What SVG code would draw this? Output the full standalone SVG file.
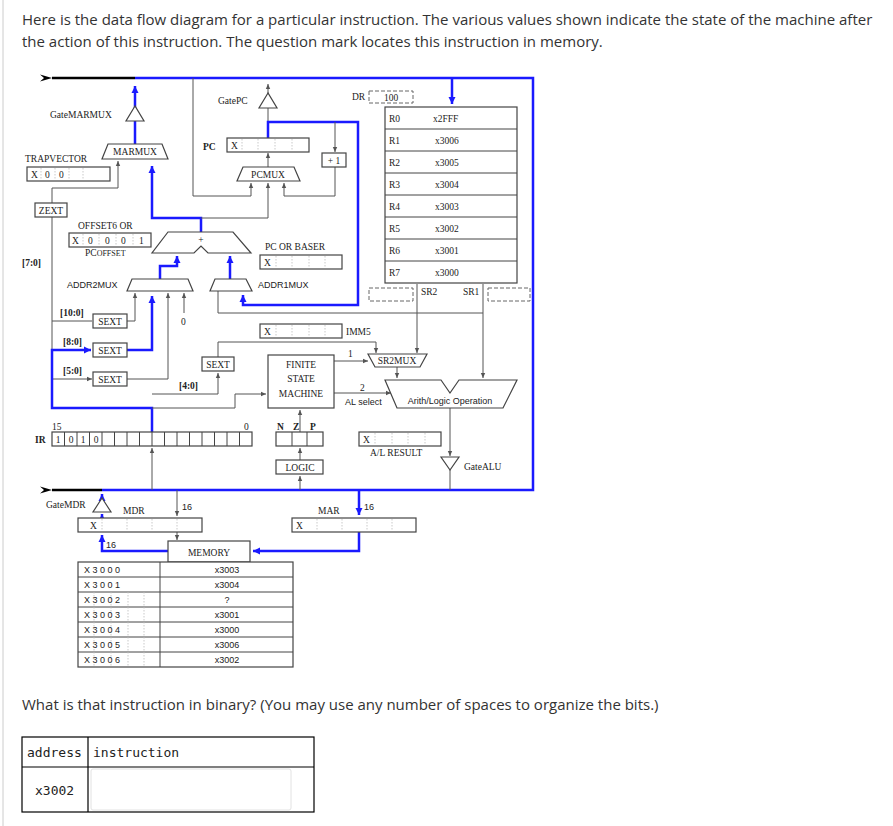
<svg xmlns="http://www.w3.org/2000/svg" width="893" height="826" viewBox="0 0 893 826">
<defs>
<marker id="ag" markerWidth="6" markerHeight="6" refX="5" refY="3" orient="auto" markerUnits="userSpaceOnUse"><path d="M0,0.8 L5,3 L0,5.2z" fill="#555"/></marker>
<marker id="ab" markerWidth="8" markerHeight="8" refX="7" refY="4" orient="auto" markerUnits="userSpaceOnUse"><path d="M0,0.5 L7,4 L0,7.5z" fill="#1a1aff"/></marker>
<marker id="ak" markerWidth="12" markerHeight="8" refX="0" refY="4" orient="auto" markerUnits="userSpaceOnUse"><path d="M0,4 L12,0.5 L8,4 L12,7.5z" fill="#000"/></marker>
</defs>
<style>
.t{font-family:"Liberation Serif",serif;font-size:9.5px;fill:#222}
.s{font-family:"Liberation Sans",sans-serif;font-size:9px;fill:#222}
.o{font-family:"Open Sans",sans-serif;font-size:15px;fill:#333}
.m{font-family:"DejaVu Sans Mono",monospace;font-size:13px;fill:#222}
.g{fill:none;stroke:#555;stroke-width:1}
.b{fill:none;stroke:#1a1aff;stroke-width:2.5}
.bx{fill:#fff;stroke:#444;stroke-width:1.2}
.d{stroke:#bbb;stroke-width:0.8;stroke-dasharray:1.5,1.5}
.ds{fill:none;stroke:#666;stroke-width:1;stroke-dasharray:4,2}
</style>
<rect width="893" height="826" fill="#fff"/>
<line x1="3" y1="0" x2="3" y2="826" stroke="#ccc"/>
<text class="o" x="22" y="25">Here is the data flow diagram for a particular instruction. The various values shown indicate the state of the machine after</text>
<text class="o" x="22" y="47">the action of this instruction. The question mark locates this instruction in memory.</text>

<g id="connectors">
<!-- buses -->
<line x1="135" y1="78" x2="52" y2="78" stroke="#000" stroke-width="2.5" marker-end="url(#ak)"/>
<path class="b" d="M135,78 H533 V490 H102"/>
<line x1="102" y1="490" x2="52" y2="490" stroke="#000" stroke-width="2.5" marker-end="url(#ak)"/>
<!-- marmux -->
<path class="b" d="M135,144 V86" marker-end="url(#ab)"/>
<path class="b" d="M201,232 V218 H152 V166" marker-end="url(#ab)"/>
<path class="g" d="M52,203 V188 H118 V161" marker-end="url(#ag)"/>
<!-- PC -->
<path class="g" d="M268,138 V84" marker-end="url(#ag)"/>
<path class="b" d="M268,138 V122 H358 V305 H243 V295" marker-end="url(#ab)"/>
<path class="g" d="M335,122 V152" marker-end="url(#ag)"/>
<path class="g" d="M335,167 V196 H284 V183" marker-end="url(#ag)"/>
<path class="g" d="M193,78 V196 H251 V183" marker-end="url(#ag)"/>
<path class="g" d="M201,218 H268 V183" marker-end="url(#ag)"/>
<path class="g" d="M268,167 V153" marker-end="url(#ag)"/>
<!-- adders -->
<path class="b" d="M160,279 V266 H177 V256" marker-end="url(#ab)"/>
<path class="b" d="M230,279 V256" marker-end="url(#ab)"/>
<path class="g" d="M218,291 V313 H483"/>
<path class="g" d="M127,321 H135 V293" marker-end="url(#ag)"/>
<path class="b" d="M127,350 H152 V296" marker-end="url(#ab)"/>
<path class="g" d="M127,379 H168 V293" marker-end="url(#ag)"/>
<path class="g" d="M184,313 V293" marker-end="url(#ag)"/>
<!-- IR fan -->
<path class="g" d="M52,217 V379 M52,321 H92 M52,379 H92" marker-end="url(#ag)"/>
<path class="b" d="M152,432 V408 H52 V350 H91" marker-end="url(#ab)"/>
<path class="g" d="M152,394 H218 V373" marker-end="url(#ag)"/>
<path class="g" d="M152,408 H235 V394 H266" marker-end="url(#ag)"/>
<path class="g" d="M218,357 V342 H376 V353" marker-end="url(#ag)"/>
<path class="g" d="M152,490 V448" marker-end="url(#ag)"/>
<!-- regs -->
<path class="b" d="M452,78 V104" marker-end="url(#ab)"/>
<path class="g" d="M417,284 V353" marker-end="url(#ag)"/>
<path class="g" d="M483,284 V378" marker-end="url(#ag)"/>
<path class="g" d="M334,361 H368" marker-end="url(#ag)"/>
<path class="g" d="M334,393 H391" marker-end="url(#ag)"/>
<path class="g" d="M397,367 V378" marker-end="url(#ag)"/>
<path class="g" d="M450,408 V456" marker-end="url(#ag)"/>
<path class="g" d="M450,470 V490"/>
<path class="g" d="M300,490 V476" marker-end="url(#ag)"/>
<path class="g" d="M300,460 V448" marker-end="url(#ag)"/>
<path class="g" d="M300,432 V410" marker-end="url(#ag)"/>
<!-- memory -->
<path class="b" d="M102,500 V494" marker-end="url(#ab)"/>
<path class="b" d="M102,518 V514" marker-end="url(#ab)"/>
<path class="g" d="M177,490 V516" marker-end="url(#ag)"/>
<path class="g" d="M177,532 V540" marker-end="url(#ag)"/>
<path class="b" d="M168,551 H102 V535" marker-end="url(#ab)"/>
<path class="b" d="M359,490 V515" marker-end="url(#ab)"/>
<path class="b" d="M359,532 V551 H253" marker-end="url(#ab)"/>
</g>

<g id="gates">
<polygon points="135,106 126,121 144,121" class="bx"/>
<text class="t" x="50" y="118">GateMARMUX</text>
<polygon points="268,93 259,108 277,108" class="bx"/>
<text class="t" x="218" y="104">GatePC</text>
<polygon points="102,498 93,512 111,512" class="bx"/>
<text class="t" x="46" y="508">GateMDR</text>
<polygon points="450,470 441,457 459,457" class="bx"/>
<text class="t" x="464" y="470">GateALU</text>
</g>

<g id="marmux"><polygon points="108,144 162,144 168,159 102,159" class="bx"/><text class="t" x="135" y="155" text-anchor="middle">MARMUX</text></g>
<g id="trapvector"><text class="t" x="25" y="162">TRAPVECTOR</text>
<rect x="27" y="167" width="83" height="14" class="bx"/>
<line class="d" x1="41" y1="168" x2="41" y2="180"/><line class="d" x1="55" y1="168" x2="55" y2="180"/><line class="d" x1="69" y1="168" x2="69" y2="180"/><line class="d" x1="83" y1="168" x2="83" y2="180"/>
<text class="t" x="31" y="178">X</text><text class="t" x="45" y="178">0</text><text class="t" x="59" y="178">0</text></g>
<g id="zext"><rect x="35" y="203" width="32" height="14" class="bx"/><text class="t" x="51" y="214" text-anchor="middle">ZEXT</text><text class="t" x="22" y="266" font-weight="bold">[7:0]</text></g>

<g id="pc"><text class="t" x="203" y="150" font-size="12" font-weight="bold">PC</text>
<rect x="227" y="138" width="82" height="14" class="bx"/><text class="t" x="231" y="149">X</text>
<line class="d" x1="242" y1="139" x2="242" y2="151"/><line class="d" x1="258" y1="139" x2="258" y2="151"/><line class="d" x1="275" y1="139" x2="275" y2="151"/><line class="d" x1="292" y1="139" x2="292" y2="151"/></g>
<g id="inc"><rect x="322" y="153" width="24" height="14" class="bx"/><text class="t" x="334" y="164" text-anchor="middle">+ 1</text></g>
<g id="pcmux"><polygon points="243,167 294,167 300,181 237,181" class="bx"/><text class="t" x="268" y="178" text-anchor="middle">PCMUX</text></g>

<g id="offset"><text class="t" x="78" y="229" font-size="8.5">OFFSET6 OR</text>
<rect x="69" y="233" width="82" height="14" class="bx"/>
<line class="d" x1="83" y1="234" x2="83" y2="246"/><line class="d" x1="99" y1="234" x2="99" y2="246"/><line class="d" x1="116" y1="234" x2="116" y2="246"/><line class="d" x1="133" y1="234" x2="133" y2="246"/>
<text class="t" x="72" y="244">X</text><text class="t" x="88" y="244">0</text><text class="t" x="105" y="244">0</text><text class="t" x="121" y="244">0</text><text class="t" x="139" y="244">1</text>
<text class="t" x="85" y="256">PC<tspan font-size="8">OFFSET</tspan></text></g>
<g id="adder"><polygon points="168,232 233,232 251,253 208,253 201,246 194,253 152,253" class="bx"/><text class="t" x="201" y="243" font-size="12" text-anchor="middle">+</text></g>
<g id="pcbaser"><text class="t" x="265" y="250" font-size="8.5">PC OR BASER</text>
<rect x="260" y="255" width="82" height="14" class="bx"/><text class="t" x="264" y="266">X</text>
<line class="d" x1="276" y1="256" x2="276" y2="268"/><line class="d" x1="292" y1="256" x2="292" y2="268"/><line class="d" x1="309" y1="256" x2="309" y2="268"/><line class="d" x1="325" y1="256" x2="325" y2="268"/></g>
<g id="addr2mux"><polygon points="132,279 188,279 193,291 127,291" class="bx"/><text class="s" x="67" y="288">ADDR2MUX</text></g>
<g id="addr1mux"><polygon points="215,279 246,279 252,291 210,291" class="bx"/><text class="s" x="258" y="288">ADDR1MUX</text></g>

<g id="sext"><rect x="93" y="314" width="34" height="14" class="bx"/><text class="t" x="110" y="325" text-anchor="middle">SEXT</text>
<rect x="93" y="343" width="34" height="14" class="bx"/><text class="t" x="110" y="354" text-anchor="middle">SEXT</text>
<rect x="93" y="372" width="34" height="14" class="bx"/><text class="t" x="110" y="383" text-anchor="middle">SEXT</text>
<text class="t" x="60" y="316" font-weight="bold">[10:0]</text><text class="t" x="63" y="345" font-weight="bold">[8:0]</text><text class="t" x="63" y="374" font-weight="bold">[5:0]</text>
<text class="t" x="181" y="325">0</text>
<rect x="202" y="357" width="32" height="14" class="bx"/><text class="t" x="218" y="368" text-anchor="middle">SEXT</text>
<text class="t" x="179" y="389" font-weight="bold">[4:0]</text></g>

<g id="ir"><text class="t" x="35" y="443" font-size="11" font-weight="bold">IR</text>
<rect x="52" y="432" width="200" height="14" class="bx"/>
<path stroke="#444" stroke-width="1" d="M64.5,432v14M77,432v14M89.5,432v14M102,432v14M114.5,432v14M127,432v14M139.5,432v14M152,432v14M164.5,432v14M177,432v14M189.5,432v14M202,432v14M214.5,432v14M227,432v14M239.5,432v14"/>
<text class="t" x="58" y="443" font-size="10.5" text-anchor="middle">1</text><text class="t" x="71" y="443" font-size="10.5" text-anchor="middle">0</text><text class="t" x="83" y="443" font-size="10.5" text-anchor="middle">1</text><text class="t" x="96" y="443" font-size="10.5" text-anchor="middle">0</text>
<text class="t" x="52" y="430" font-size="8.5">15</text><text class="t" x="244" y="430" font-size="8.5">0</text></g>

<g id="imm5"><rect x="260" y="324" width="82" height="14" class="bx"/><text class="t" x="264" y="335">X</text>
<line class="d" x1="276" y1="325" x2="276" y2="337"/><line class="d" x1="292" y1="325" x2="292" y2="337"/><line class="d" x1="309" y1="325" x2="309" y2="337"/><line class="d" x1="325" y1="325" x2="325" y2="337"/>
<text class="t" x="346" y="335" font-size="9">IMM5</text></g>
<g id="fsm"><rect x="268" y="355" width="66" height="53" class="bx"/>
<text class="t" x="301" y="368" font-size="9" text-anchor="middle">FINITE</text><text class="t" x="301" y="382" font-size="9" text-anchor="middle">STATE</text><text class="t" x="301" y="397" font-size="9" text-anchor="middle">MACHINE</text>
<text class="t" x="348" y="357">1</text><text class="t" x="360" y="391">2</text><text class="s" x="345" y="405" font-size="8.5">AL select</text></g>
<g id="sr2mux"><polygon points="368,354 427,354 420,367 375,367" class="bx"/><text class="t" x="397" y="364" text-anchor="middle" font-size="9">SR2MUX</text></g>
<g id="alu"><polygon points="385,380 441,380 450,393 459,380 517,380 503,408 397,408" class="bx"/><text class="s" x="450" y="404" text-anchor="middle" font-size="8.5">Arith/Logic Operation</text></g>
<g id="alresult"><rect x="359" y="432" width="82" height="14" class="bx"/><text class="t" x="363" y="443">X</text>
<line class="d" x1="375" y1="433" x2="375" y2="445"/><line class="d" x1="392" y1="433" x2="392" y2="445"/><line class="d" x1="408" y1="433" x2="408" y2="445"/><line class="d" x1="425" y1="433" x2="425" y2="445"/>
<text class="t" x="370" y="456" font-size="8.5">A/L RESULT</text></g>
<g id="nzp"><rect x="276" y="432" width="47" height="14" class="bx"/><line x1="292" y1="432" x2="292" y2="446" stroke="#444"/><line x1="307" y1="432" x2="307" y2="446" stroke="#444"/>
<text class="t" x="277" y="430" font-weight="bold">N</text><text class="t" x="293" y="430" font-weight="bold">Z</text><text class="t" x="310" y="430" font-weight="bold">P</text></g>
<g id="logic"><rect x="276" y="460" width="47" height="14" class="bx"/><text class="t" x="300" y="471" text-anchor="middle">LOGIC</text></g>

<g id="regfile"><text class="t" x="352" y="100">DR</text><rect x="369" y="91" width="44" height="12" class="ds"/><text class="t" x="391" y="101" text-anchor="middle">100</text>
<rect x="385" y="107" width="132" height="176" class="bx"/>
<path stroke="#444" d="M385,129H517M385,151H517M385,173H517M385,195H517M385,217H517M385,239H517M385,261H517"/>
<text class="t" x="389" y="122">R0</text><text class="t" x="433" y="122">x2FFF</text>
<text class="t" x="389" y="144">R1</text><text class="t" x="435" y="144">x3006</text>
<text class="t" x="389" y="166">R2</text><text class="t" x="435" y="166">x3005</text>
<text class="t" x="389" y="188">R3</text><text class="t" x="435" y="188">x3004</text>
<text class="t" x="389" y="210">R4</text><text class="t" x="435" y="210">x3003</text>
<text class="t" x="389" y="232">R5</text><text class="t" x="435" y="232">x3002</text>
<text class="t" x="389" y="254">R6</text><text class="t" x="435" y="254">x3001</text>
<text class="t" x="389" y="276">R7</text><text class="t" x="435" y="276">x3000</text>
<rect x="369" y="288" width="44" height="13" class="ds"/><rect x="488" y="288" width="42" height="13" class="ds"/>
<text class="t" x="421" y="295" font-size="8.5">SR2</text><text class="t" x="463" y="295" font-size="8.5">SR1</text></g>

<g id="mdr"><text class="t" x="123" y="514">MDR</text><rect x="78" y="518" width="124" height="14" class="bx"/><text class="t" x="90" y="529">X</text>
<line class="d" x1="102" y1="519" x2="102" y2="531"/><line class="d" x1="127" y1="519" x2="127" y2="531"/><line class="d" x1="152" y1="519" x2="152" y2="531"/><line class="d" x1="177" y1="519" x2="177" y2="531"/>
<text class="s" x="182" y="510" font-size="8">16</text><text class="s" x="106" y="548" font-size="8">16</text></g>
<g id="mar"><text class="t" x="318" y="514">MAR</text><rect x="292" y="518" width="124" height="14" class="bx"/><text class="t" x="296" y="529">X</text>
<line class="d" x1="317" y1="519" x2="317" y2="531"/><line class="d" x1="342" y1="519" x2="342" y2="531"/><line class="d" x1="367" y1="519" x2="367" y2="531"/><line class="d" x1="392" y1="519" x2="392" y2="531"/>
<text class="s" x="364" y="510" font-size="8">16</text></g>
<g id="memory"><rect x="168" y="541" width="82" height="21" class="bx"/><text class="t" x="209" y="556" font-size="11.5" text-anchor="middle">MEMORY</text>
<rect x="78" y="562" width="215" height="105" class="bx"/>
<path stroke="#444" d="M78,577H293M78,592H293M78,607H293M78,622H293M78,637H293M78,652H293M160,562V667"/>
<path class="d" d="M94,592V667M111,592V667M128,592V667M144,592V667"/>
<g class="s" font-size="9.5">
<text x="84" y="573">X   3   0   0   0</text><text x="84" y="588">X   3   0   0   1</text><text x="84" y="603">X   3   0   0   2</text><text x="84" y="618">X   3   0   0   3</text><text x="84" y="633">X   3   0   0   4</text><text x="84" y="648">X   3   0   0   5</text><text x="84" y="663">X   3   0   0   6</text>
</g>
<g class="s" font-size="9.5" text-anchor="middle">
<text x="227" y="573">x3003</text><text x="227" y="588">x3004</text><text x="227" y="603">?</text><text x="227" y="618">x3001</text><text x="227" y="633">x3000</text><text x="227" y="648">x3006</text><text x="227" y="663">x3002</text>
</g></g>

<text class="o" x="22" y="710">What is that instruction in binary? (You may use any number of spaces to organize the bits.)</text>
<g id="answer">
<rect x="22" y="737" width="292" height="75" fill="#fff" stroke="#000" stroke-width="1.2"/>
<path stroke="#000" stroke-width="1.2" d="M22,767H314M88,737V812"/>
<text class="m" x="27" y="757">address</text><text class="m" x="93" y="757">instruction</text>
<text class="m" x="35" y="795">x3002</text>
<rect x="91" y="769" width="200" height="41" rx="2" fill="#fff" stroke="#e2e2e2"/>
</g>
</svg>
